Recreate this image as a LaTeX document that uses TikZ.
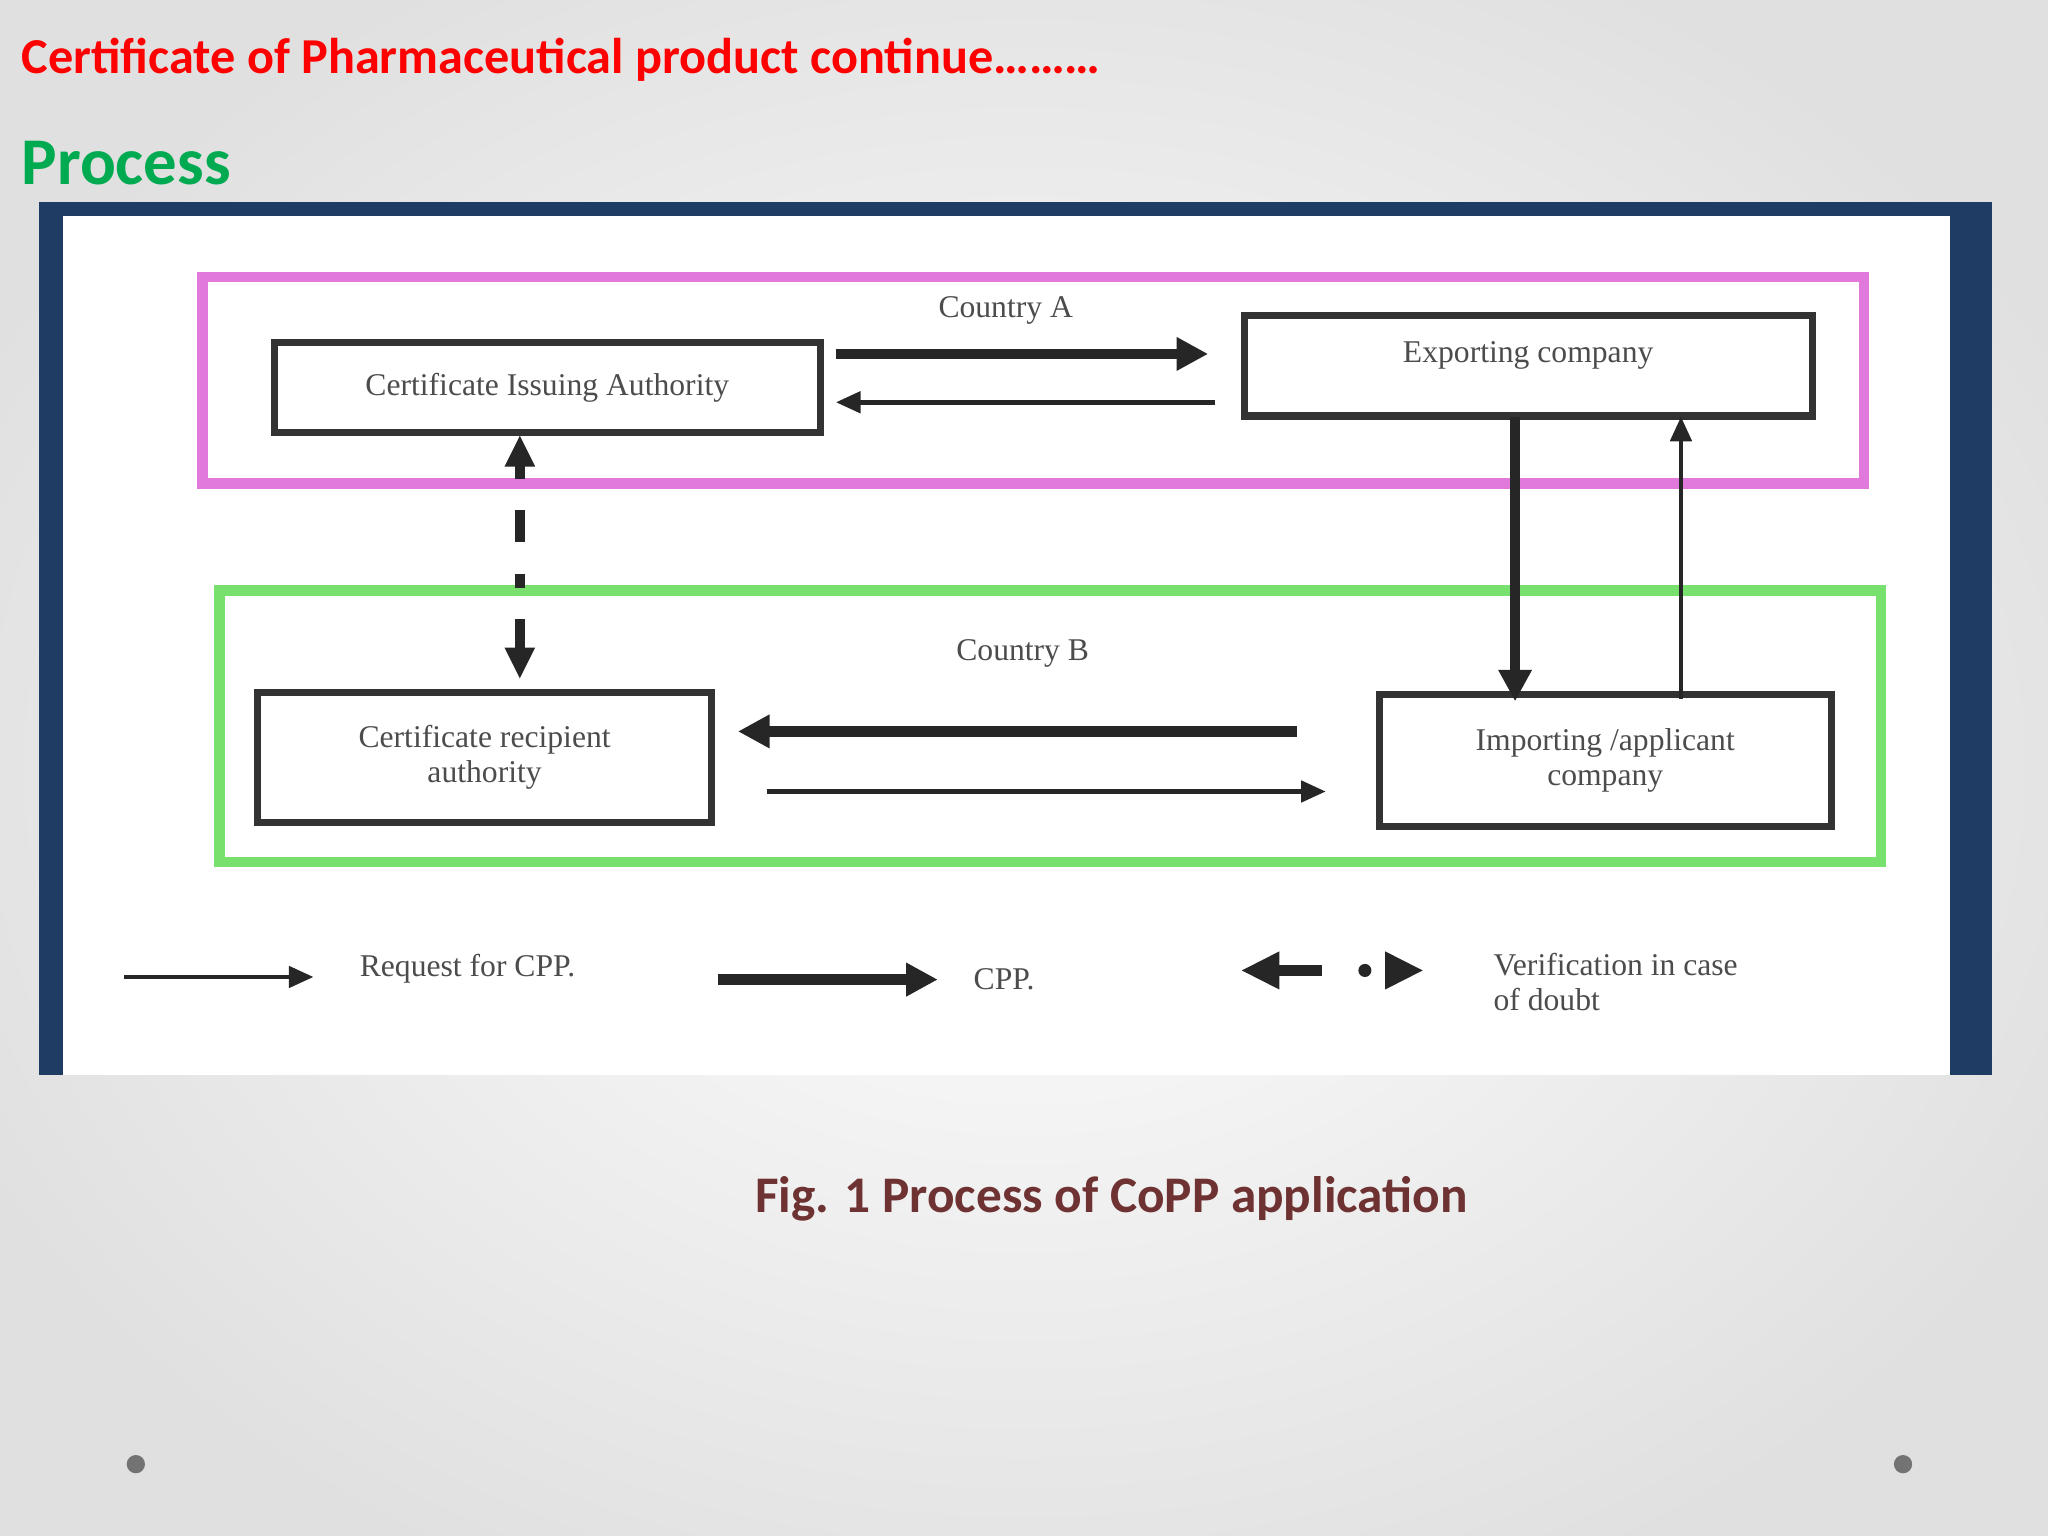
\documentclass[tikz,border=0pt]{standalone}
\usepackage{fontspec}
\setmainfont{Carlito}
\newfontfamily\serifx{Liberation Serif}
\usetikzlibrary{arrows.meta}
\definecolor{frameblue}{RGB}{30,60,100}
\definecolor{pinkb}{RGB}{225,120,220}
\definecolor{greenb}{RGB}{120,225,110}
\definecolor{capc}{RGB}{110,50,50}
\tikzset{
 box/.style={draw=black!80,line width=2pt,fill=white},
 lbl/.style={font=\serifx\fontsize{9}{10}\selectfont,text=black!70,align=center},
 thin/.style={draw=black!85,line width=1.3pt,-{Triangle[length=7pt,width=6pt]}},
 thick/.style={draw=black!85,line width=3pt,-{Triangle[length=9pt,width=9pt]}},
}
\begin{document}
\begin{tikzpicture}[x=0.013061cm,y=-0.013061cm]
\useasboundingbox (0,0) rectangle (1568,1176);
\shade[inner color=white,outer color=black!12] (-100,-100) rectangle (1668,1276);
\node[anchor=west,inner sep=0pt,text=red,font=\bfseries\fontsize{14.3}{16}\selectfont] (t) at (16,46) {Certificate of Pharmaceutical product continue………};
\node[anchor=west,inner sep=0pt,text={rgb,255:red,0;green,170;blue,80},font=\bfseries\fontsize{19}{22}\selectfont] (p) at (16,125) {Process};
\fill[frameblue] (30,155) rectangle (1525,823);
\fill[white] (48,165) rectangle (1493,823);
\draw[pinkb,line width=3pt] (155,212) rectangle (1427,370);
\draw[greenb,line width=3pt] (168,452) rectangle (1440,660);
\node[box,minimum width=418*0.013061cm,minimum height=69*0.013061cm,lbl] (cia) at (419,297) {Certificate Issuing Authority};
\node[box,minimum width=435*0.013061cm,minimum height=77*0.013061cm] (exp) at (1170,280) {};
\node[lbl] (expt) at (1170,272) {Exporting company};
\node[box,minimum width=348*0.013061cm,minimum height=100*0.013061cm,lbl] (cra) at (371,580) {Certificate recipient\\authority};
\node[box,minimum width=346*0.013061cm,minimum height=101*0.013061cm,lbl] (imp) at (1229,582) {Importing /applicant\\company};
\node[lbl] (ca) at (770,238) {Country A};
\node[lbl] (cb) at (783,500) {Country B};
\draw[thick] (640,271) -- (925,271);
\draw[thin] (930,308) -- (640,308);
\draw[thick] (1160,319) -- (1160,537);
\draw[thin] (1287,535) -- (1287,319);
\draw[thick] (993,560) -- (565,560);
\draw[thin] (587,606) -- (1015,606);
\coordinate (d1) at (398,333);
\coordinate (d2) at (398,520);
\draw[black!85,line width=3pt,dash pattern=on 4pt off 9pt on 9pt off 9pt,{Triangle[length=9pt,width=8pt]}-{Triangle[length=9pt,width=8pt]}] (d1) -- (d2);
\coordinate (l1) at (95,748); \coordinate (l2) at (240,748);
\draw[thin] (l1) -- (l2);
\node[lbl,anchor=west] (r) at (266,742) {Request for CPP.};
\coordinate (l3) at (550,750); \coordinate (l4) at (718,750);
\draw[thick] (l3) -- (l4);
\node[lbl,anchor=west] (c) at (736,750) {CPP.};
\coordinate (l5) at (1012,743); \coordinate (l6) at (1065,743);
\draw[black!85,line width=3pt,-{Triangle[length=11pt,width=10pt]}] (l5) -- +(-62,0);
\fill[black!85] (1045,743) circle (5);
\draw[black!85,line width=3pt,-{Triangle[length=11pt,width=10pt]}] (l6) -- +(25,0);
\node[lbl,anchor=west,align=left] (v) at (1134,752) {Verification in case\\of doubt};
\node[text=capc,font=\bfseries\fontsize{14.6}{18}\selectfont] (fig) at (851,918) {Fig. 1 Process of CoPP application};
\fill[black!55] (104,1121) circle (7);
\fill[black!55] (1457,1121) circle (7);
\end{tikzpicture}
\end{document}
